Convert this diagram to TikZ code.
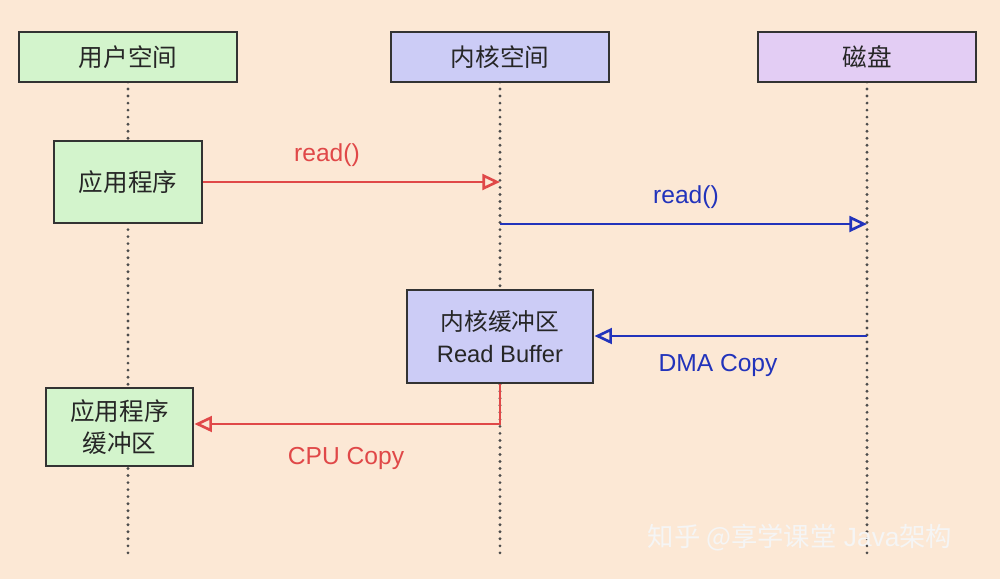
\documentclass[tikz,border=0pt]{standalone}
\usepackage{fontspec}
\setmainfont{Liberation Sans}
\newfontfamily\cjk{Noto Sans CJK SC}
\usetikzlibrary{arrows.meta}
\definecolor{bg}{HTML}{FCE8D5}
\definecolor{gfill}{HTML}{D3F4CC}
\definecolor{bfill}{HTML}{CCCCF6}
\definecolor{pfill}{HTML}{E3CDF4}
\definecolor{redl}{HTML}{E04848}
\definecolor{bluel}{HTML}{2233BB}
\begin{document}
\begin{tikzpicture}[x=0.02cm,y=-0.02cm,
  box/.style={draw=black!80,line width=1.6pt,inner sep=0pt,font=\cjk\fontsize{14}{17}\selectfont,align=center,text=black!85},
  life/.style={black!70,line width=1.8pt,line cap=round,dash pattern=on 0pt off 4pt},
  arr/.style={line width=1.5pt,-{Triangle[open,length=10pt,width=9pt,line width=1.5pt]}},
  lab/.style={font=\fontsize{14}{17}\selectfont}]
\fill[bg] (0,0) rectangle (1000,579);
\useasboundingbox (0,0) rectangle (1000,579);
\coordinate (u0) at (128,82); \coordinate (u1) at (128,555);
\coordinate (k0) at (500,82); \coordinate (k1) at (500,555);
\coordinate (d0) at (867,82); \coordinate (d1) at (867,555);
\draw[life] (u0)--(u1); \draw[life] (k0)--(k1); \draw[life] (d0)--(d1);
\node[box,fill=gfill,minimum width=218*0.02cm,minimum height=50*0.02cm] (user) at (128,57) {用户空间};
\node[box,fill=bfill,minimum width=218*0.02cm,minimum height=50*0.02cm] (kern) at (500,57) {内核空间};
\node[box,fill=pfill,minimum width=218*0.02cm,minimum height=50*0.02cm] (disk) at (867,57) {磁盘};
\node[box,fill=gfill,minimum width=148*0.02cm,minimum height=82*0.02cm] (app) at (128,182) {应用程序};
\node[box,fill=bfill,minimum width=186*0.02cm,minimum height=93*0.02cm,font=\fontsize{13.5}{18}\selectfont] (rb) at (500,336.5) {{\cjk 内核缓冲区}\\Read Buffer};
\node[box,fill=gfill,minimum width=147*0.02cm,minimum height=78*0.02cm,font=\cjk\fontsize{14}{18}\selectfont] (ab) at (119.5,427) {应用程序\\缓冲区};
\coordinate (r1) at (500,182);
\coordinate (r2) at (500,224); \coordinate (r3) at (867,224);
\coordinate (r4) at (867,336);
\coordinate (r5) at (500,424);
\draw[arr,redl] (app.east) -- (r1);
\node[lab,text=redl] (l1) at (327,155) {read()};
\draw[arr,bluel] (r2) -- (r3);
\node[lab,text=bluel] (l2) at (686,197) {read()};
\draw[arr,bluel] (r4) -- (rb.east|-r4);
\node[lab,text=bluel] (l3) at (718,365) {DMA Copy};
\draw[arr,redl] (rb.south) -- (r5) -- (ab.east|-r5);
\node[lab,text=redl] (l4) at (346,458) {CPU Copy};
\node[font=\fontsize{15}{17}\selectfont,text=white!92!gray] (wm) at (800,538) {{\cjk 知乎 @享学课堂} Java{\cjk 架构}};
\end{tikzpicture}
\end{document}
